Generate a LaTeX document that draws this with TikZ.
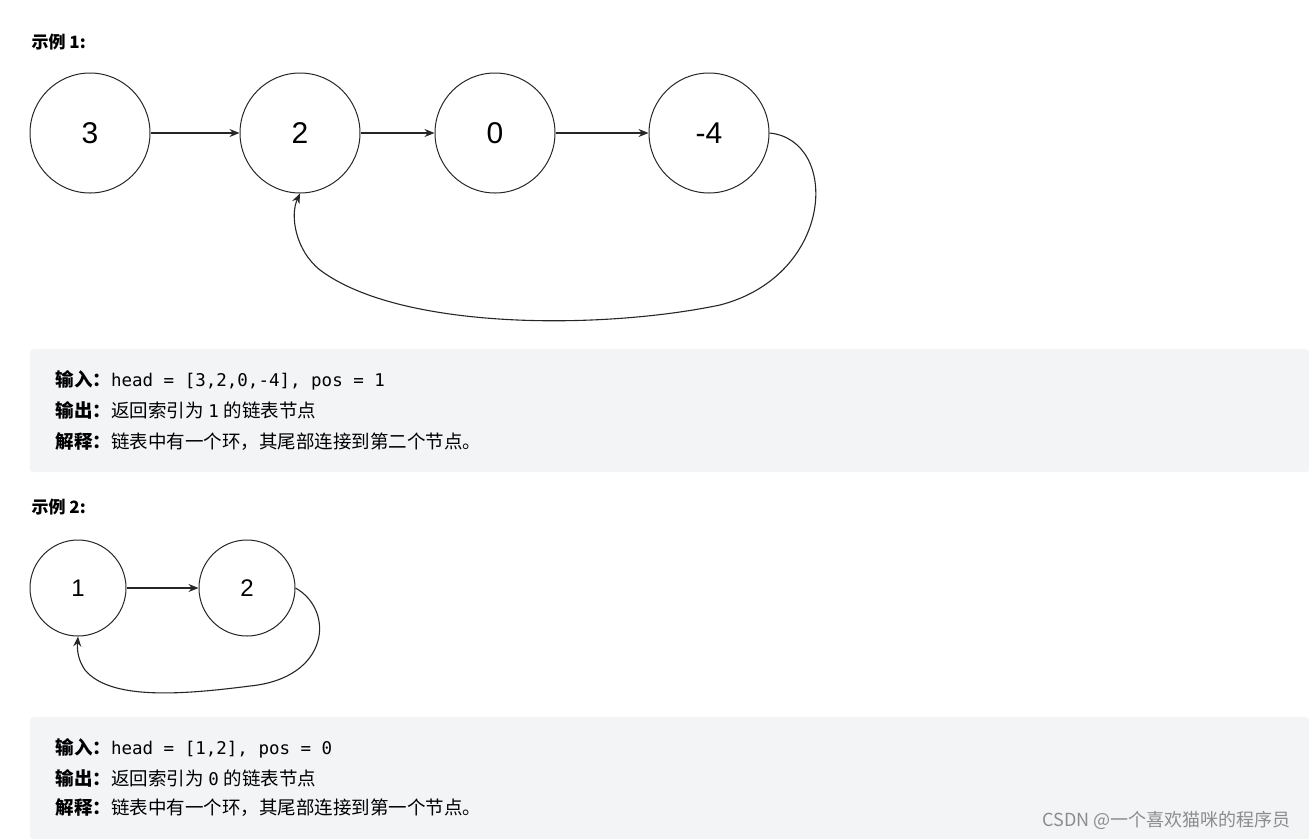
\documentclass[tikz,border=0pt]{standalone}
\usepackage{fontspec}
\setmainfont{Liberation Sans}
\setmonofont{DejaVu Sans Mono}
\newfontfamily\cjk{Noto Sans CJK SC}
\usetikzlibrary{arrows.meta}
\definecolor{boxgray}{HTML}{F3F4F6}
\tikzset{
 big/.style={circle,draw=black!85,line width=1pt,minimum size=120pt,inner sep=0pt,font=\fontsize{30}{30}\selectfont},
 small/.style={circle,draw=black!85,line width=1pt,minimum size=96pt,inner sep=0pt,font=\fontsize{24}{24}\selectfont},
 link/.style={line width=1.1pt,draw=black!85,-{Stealth[length=10pt,width=8pt]}},
 title/.style={anchor=west,font=\cjk\bfseries\fontsize{17}{17}\selectfont},
 line/.style={anchor=west,font=\fontsize{17.5}{17.5}\selectfont},
 info/.style={fill=boxgray,draw=none,rounded corners=3pt}
}
\newcommand{\lb}[1]{{\cjk\bfseries\fontsize{18.5}{18.5}\selectfont #1}}
\newcommand{\cj}[1]{{\cjk\fontsize{18.5}{18.5}\selectfont #1}}
\begin{document}
\begin{tikzpicture}[x=1pt,y=-1pt]
\useasboundingbox (0,0) rectangle (1309,839);
\node[title] (t1) at (28,42) {示例 1:};
\node[big] (a) at (90,133) {3};
\node[big] (b) at (300,133) {2};
\node[big] (c) at (495,133) {0};
\node[big] (d) at (709,133) {-4};
\draw[link] (a) -- (b);
\draw[link] (b) -- (c);
\draw[link] (c) -- (d);
\draw[link] (d.east) .. controls (840,140) and (835,275) .. (720,305) .. controls (600,330) and (400,330) .. (320,270) .. controls (295,250) and (290,215) .. (b.south);
\node[info,minimum width=1279pt,minimum height=123pt,anchor=north west] (box1) at (30,349) {};
\node[line] (l1) at (52,380) {\lb{输入：}\texttt{head = [3,2,0,-4], pos = 1}};
\node[line] (l2) at (52,410) {\lb{输出：}\cj{返回索引为}\ \texttt{1}\ \cj{的链表节点}};
\node[line] (l3) at (52,442) {\lb{解释：}\cj{链表中有一个环，其尾部连接到第二个节点。}};
\node[title] (t2) at (28,507) {示例 2:};
\node[small] (e) at (78,588) {1};
\node[small] (f) at (247,588) {2};
\draw[link] (e) -- (f);
\draw[link] (f.east) .. controls (335,610) and (330,678) .. (250,686) .. controls (180,695) and (110,700) .. (85,670) .. controls (78,660) and (77,650) .. (e.south);
\node[info,minimum width=1279pt,minimum height=122pt,anchor=north west] (box2) at (30,717) {};
\node[line] (m1) at (52,748) {\lb{输入：}\texttt{head = [1,2], pos = 0}};
\node[line] (m2) at (52,778) {\lb{输出：}\cj{返回索引为}\ \texttt{0}\ \cj{的链表节点}};
\node[line] (m3) at (52,808) {\lb{解释：}\cj{链表中有一个环，其尾部连接到第一个节点。}};
\node[anchor=east,text=black!45,font=\cjk\fontsize{18}{18}\selectfont] (wm) at (1294,820) {CSDN @一个喜欢猫咪的程序员};
\end{tikzpicture}
\end{document}
